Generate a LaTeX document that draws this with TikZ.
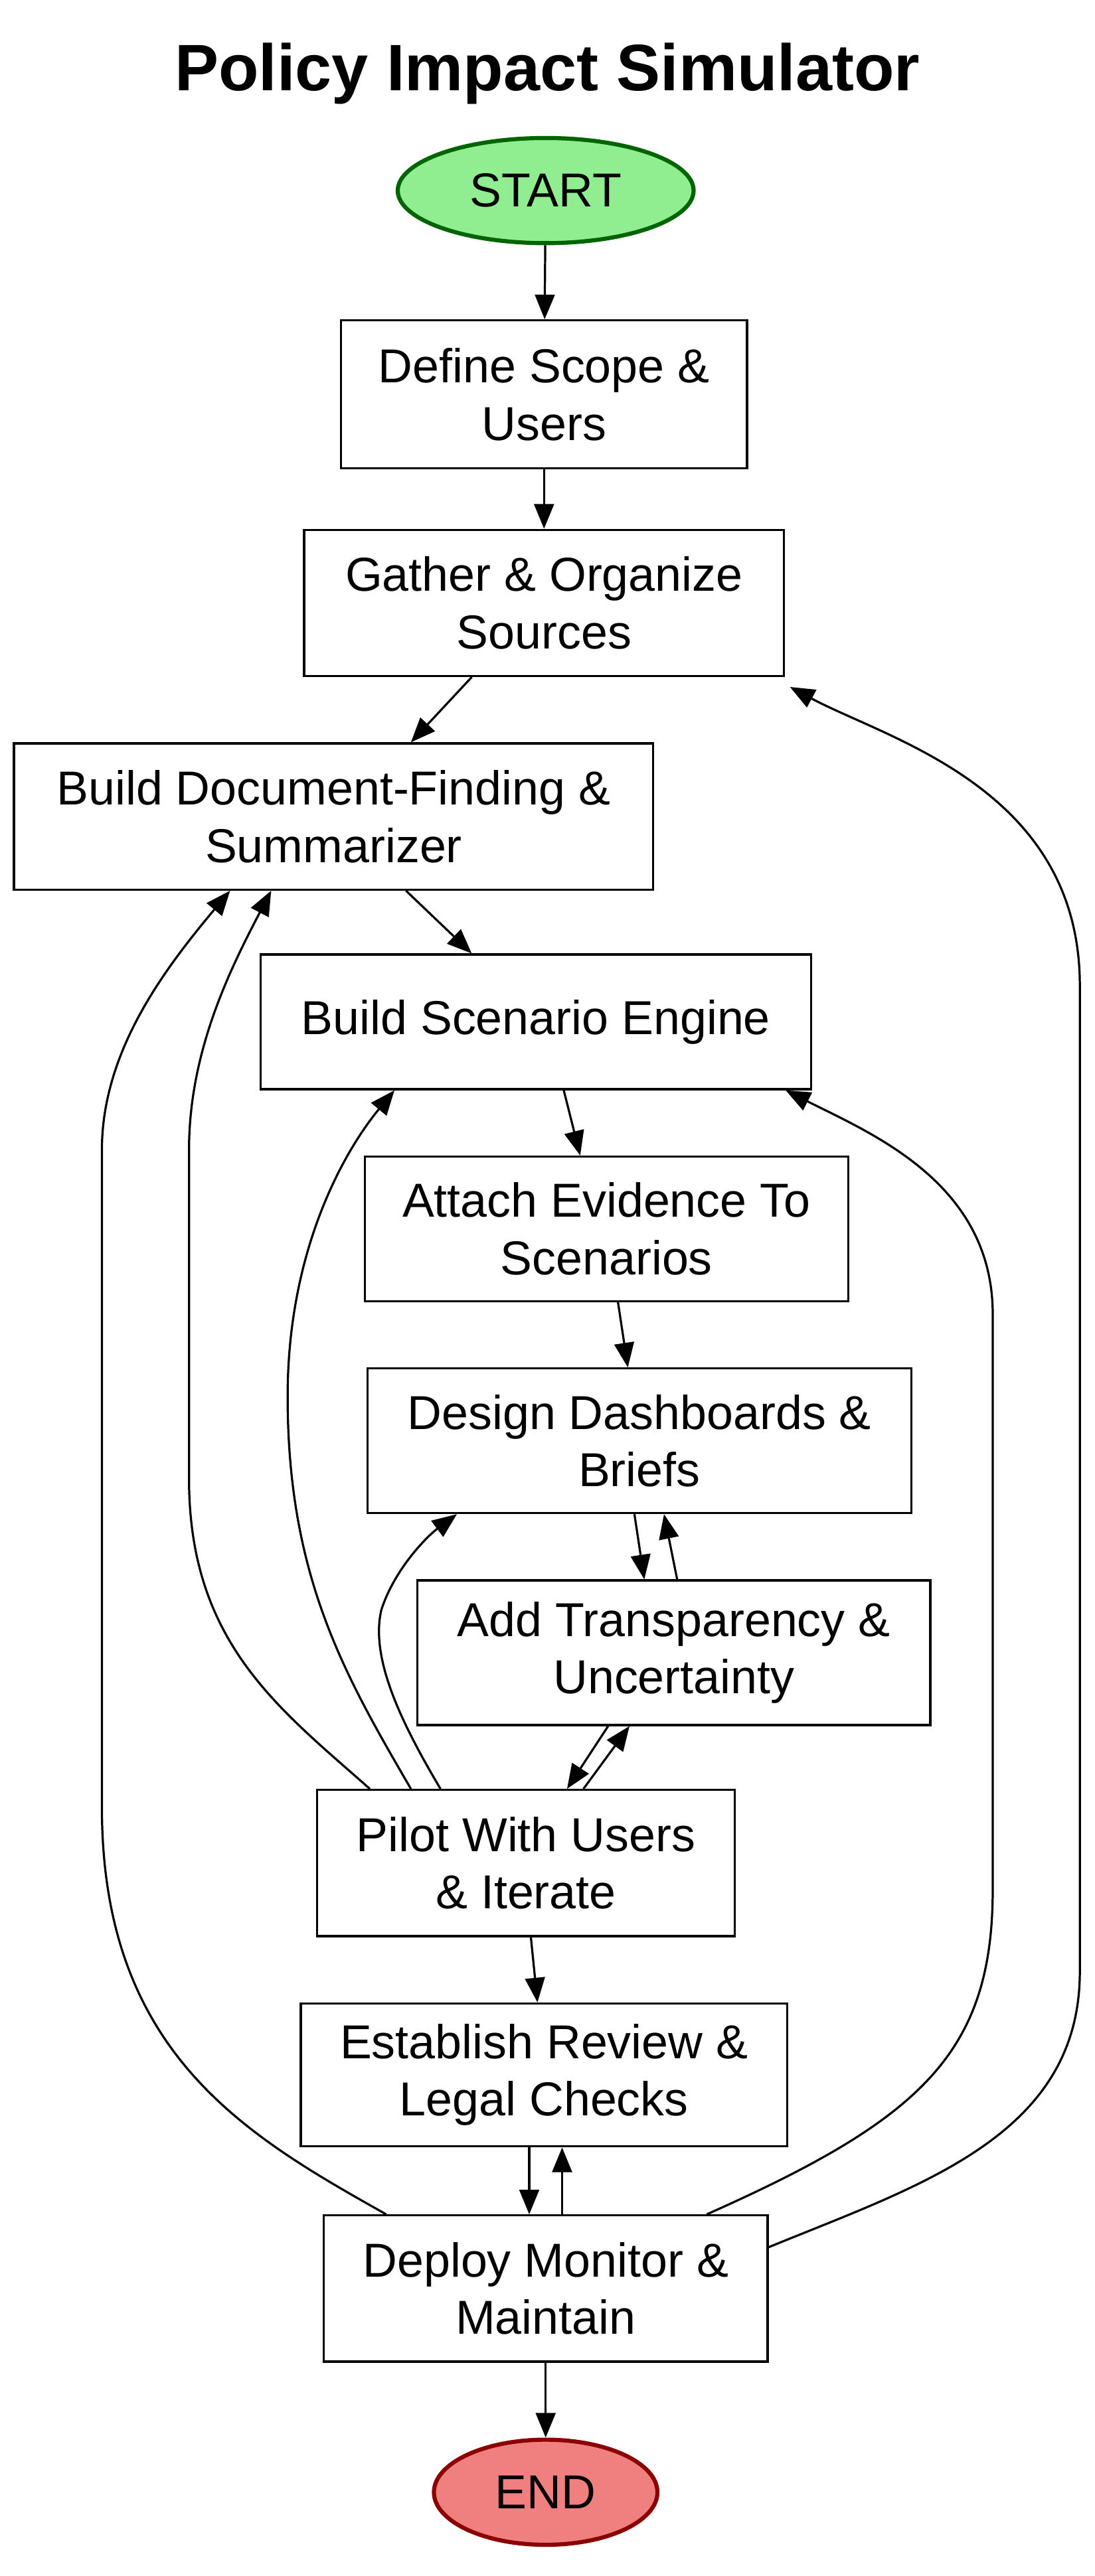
\documentclass[tikz,border=0pt]{standalone}
\usepackage{fontspec}
\setmainfont{Liberation Sans}
\usetikzlibrary{arrows.meta,calc,shapes.geometric}
\definecolor{sfill}{HTML}{90EE90}
\definecolor{efill}{HTML}{F08080}
\definecolor{sdraw}{HTML}{006400}
\definecolor{edraw}{HTML}{8B0000}
\begin{document}
\begin{tikzpicture}[x=1pt,y=-1pt,
  box/.style={draw,line width=1.3pt,align=center,font=\fontsize{29}{35}\selectfont,inner sep=0pt},
  e/.style={-{Triangle[length=15pt,width=12pt]},line width=1.3pt}]
\useasboundingbox (0,0) rectangle (666,1568);
\node[font=\bfseries\fontsize{40}{46}\selectfont] (title) at (333,45) {Policy Impact Simulator};
\node[ellipse,draw=sdraw,fill=sfill,line width=2.5pt,minimum width=180pt,minimum height=64pt,font=\fontsize{29}{34}\selectfont] (start) at (332,116) {START};
\node[box,minimum width=247pt,minimum height=90pt] (def) at (331,240) {Define Scope \&\\Users};
\node[box,minimum width=292pt,minimum height=89pt] (gat) at (331,367) {Gather \& Organize\\Sources};
\node[box,minimum width=389pt,minimum height=89pt] (doc) at (203,497) {Build Document-Finding \&\\Summarizer};
\node[box,minimum width=335pt,minimum height=82pt] (sce) at (326,622) {Build Scenario Engine};
\node[box,minimum width=294pt,minimum height=88pt] (att) at (369,748) {Attach Evidence To\\Scenarios};
\node[box,minimum width=331pt,minimum height=88pt] (des) at (389,877) {Design Dashboards \&\\Briefs};
\node[box,minimum width=312pt,minimum height=88pt] (tra) at (410,1006) {Add Transparency \&\\Uncertainty};
\node[box,minimum width=254pt,minimum height=89pt] (pil) at (320,1134) {Pilot With Users\\\& Iterate};
\node[box,minimum width=296pt,minimum height=87pt] (est) at (331,1263) {Establish Review \&\\Legal Checks};
\node[box,minimum width=270pt,minimum height=89pt] (dep) at (332,1393) {Deploy Monitor \&\\Maintain};
\node[ellipse,draw=edraw,fill=efill,line width=2.5pt,minimum width=136pt,minimum height=64pt,font=\fontsize{29}{34}\selectfont] (end) at (332,1517) {END};
% forward
\draw[e] (start) -- (def);
\draw[e] (def) -- (gat);
\draw[e] ([xshift=-44pt]gat.south) -- ([xshift=47pt]doc.north);
\draw[e] ([xshift=44pt]doc.south) -- ([xshift=-39pt]sce.north);
\draw[e] ([xshift=17pt]sce.south) -- ([xshift=-16pt]att.north);
\draw[e] ([xshift=7pt]att.south) -- ([xshift=-7pt]des.north);
\draw[e] ([xshift=-3pt]des.south) -- ([xshift=-18pt]tra.north);
\draw[e] ([xshift=2pt]tra.north) -- ([xshift=15pt]des.south);
\draw[e] ([xshift=-40pt]tra.south) -- ([xshift=25pt]pil.north);
\draw[e] ([xshift=35pt]pil.north) -- ([xshift=-27pt]tra.south);
\draw[e] ([xshift=3pt]pil.south) -- ([xshift=-4pt]est.north);
\draw[e] ([xshift=-9pt]est.south) -- ([xshift=-10pt]dep.north);
\draw[e] ([xshift=10pt]dep.north) -- ([xshift=11pt]est.south);
\draw[e] (dep) -- (end);
% back edges
\draw[e] ([yshift=-20pt]dep.north east) .. controls (560,1330) and (657,1300) .. (657,1200) -- (657,600) .. controls (657,480) and (540,450) .. ([xshift=3pt,yshift=-6pt]gat.south east);
\draw[e] ([xshift=98pt]dep.north) .. controls (560,1290) and (604,1250) .. (604,1150) -- (604,800) .. controls (604,720) and (530,690) .. ([xshift=152pt]sce.south);
\draw[e] ([xshift=-97pt]dep.north) .. controls (150,1300) and (62,1250) .. (62,1100) -- (62,700) .. controls (62,640) and (100,590) .. ([xshift=-63pt]doc.south);
\draw[e] ([xshift=-95pt]pil.north) .. controls (170,1040) and (115,1000) .. (115,900) -- (115,700) .. controls (115,640) and (140,590) .. ([xshift=-38pt]doc.south);
\draw[e] ([xshift=-70pt]pil.north) .. controls (210,1020) and (175,960) .. (175,850) .. controls (175,760) and (210,700) .. ([xshift=-86pt]sce.south);
\draw[e] ([xshift=-52pt]pil.north) .. controls (245,1050) and (225,1010) .. (232,980) .. controls (240,955) and (260,935) .. ([xshift=-111pt]des.south);
\end{tikzpicture}
\end{document}
